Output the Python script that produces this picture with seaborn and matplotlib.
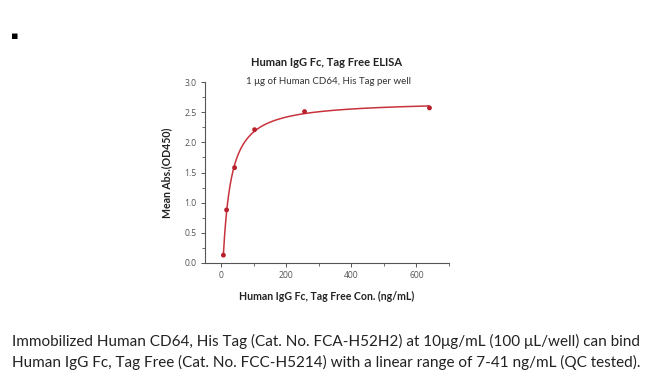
import numpy as np
import pandas as pd
import matplotlib
matplotlib.use("Agg")
import matplotlib.pyplot as plt
import seaborn as sns
from matplotlib.ticker import MultipleLocator

conc = [6.55, 16.38, 40.96, 102.4, 256.0, 640.0]
od450 = [0.13, 0.88, 1.58, 2.21, 2.51, 2.57]
title = "Human IgG Fc, Tag Free ELISA"
subtitle = "1 \u03bcg of Human CD64, His Tag per well"
xlabel = "Human IgG Fc, Tag Free Con. (ng/mL)"
ylabel = "Mean Abs.(OD450)"
caption1 = "Immobilized Human CD64, His Tag (Cat. No. FCA-H52H2) at 10\u03bcg/mL (100 \u03bcL/well) can bind"
caption2 = "Human IgG Fc, Tag Free (Cat. No. FCC-H5214) with a linear range of 7-41 ng/mL (QC tested)."

df = pd.DataFrame({"conc": conc, "od": od450})

# 4PL fit: grid over EC50 and Hill slope, linear least squares for bottom/top
x = np.array(conc); y = np.array(od450)
best = None
for ec in np.linspace(5, 120, 231):
    for h in np.linspace(0.5, 3.0, 126):
        f = 1.0 / (1.0 + (ec / x) ** h)
        A = np.column_stack([1 - f, f])
        coef, *_ = np.linalg.lstsq(A, y, rcond=None)
        r = np.sum((A @ coef - y) ** 2)
        if best is None or r < best[0]:
            best = (r, ec, h, coef)
_, ec50, hill, (bottom, top) = best
xf = np.linspace(x.min(), x.max(), 400)
ff = 1.0 / (1.0 + (ec50 / xf) ** hill)
fit = pd.DataFrame({"conc": xf, "od": bottom * (1 - ff) + top * ff})

sns.set_theme(style="ticks")
plt.rcParams["font.family"] = ["Lato", "DejaVu Sans"]

fig = plt.figure(figsize=(6.5, 3.76), dpi=100)
ax = fig.add_axes([205 / 650, 1 - 263 / 376, (449 - 205) / 650, (263 - 82) / 376])

red = "#c8323c"
sns.lineplot(data=fit, x="conc", y="od", ax=ax, color=red, lw=1.1)
sns.scatterplot(data=df, x="conc", y="od", ax=ax, color="#b8202c", s=12,
                marker="o", edgecolor="none", zorder=3)

ax.set_xlim(-50, 700)
ax.set_ylim(0, 3.0)
ax.xaxis.set_minor_locator(MultipleLocator(100))
ax.yaxis.set_minor_locator(MultipleLocator(0.25))
ax.set_xticks([0, 200, 400, 600])
ax.set_yticks([0.0, 0.5, 1.0, 1.5, 2.0, 2.5, 3.0])
ax.set_yticklabels(["0.0", "0.5", "1.0", "1.5", "2.0", "2.5", "3.0"])
for s in ["top", "right"]:
    ax.spines[s].set_visible(False)
for s in ["left", "bottom"]:
    ax.spines[s].set_color("#555555")
    ax.spines[s].set_linewidth(0.8)
ax.tick_params(axis="both", which="major", length=3, width=0.7, colors="#555555",
               labelsize=6.2, labelcolor="#555555", pad=3)
ax.tick_params(axis="both", which="minor", length=2, width=0.6, colors="#555555")
for lab in ax.get_xticklabels() + ax.get_yticklabels():
    lab.set_family(["Open Sans", "DejaVu Sans"])

ax.set_xlabel(xlabel, fontsize=7.6, fontweight="bold", color="#222222", labelpad=8)
ax.set_ylabel(ylabel, fontsize=7.6, fontweight="bold", color="#222222", labelpad=9)
fig.text(327 / 650, 1 - 62 / 376, title, fontsize=8.0, fontweight="bold",
         ha="center", va="center", color="#222222")
fig.text(328 / 650, 1 - 82 / 376, subtitle, fontsize=7.0,
         ha="center", va="center", color="#333333")

fig.text(12 / 650, 1 - 341 / 376, caption1, fontsize=10.95, ha="left", va="center", color="#222222")
fig.text(12 / 650, 1 - 362 / 376, caption2, fontsize=10.95, ha="left", va="center", color="#222222")
fig.text(15 / 650, 1 - 36 / 376, "\u25aa", fontsize=8, ha="center", va="center", color="black",
         family=["DejaVu Sans"])

fig.savefig("out.png", dpi=100)
